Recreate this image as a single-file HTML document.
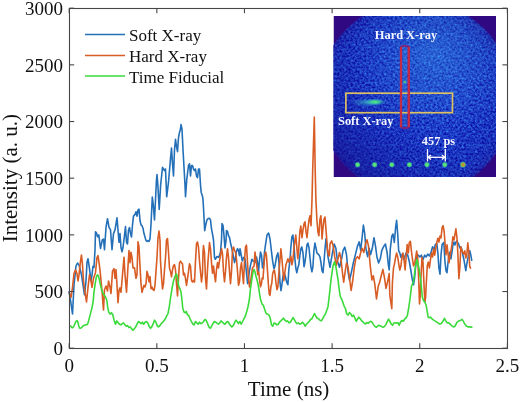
<!DOCTYPE html>
<html><head><meta charset="utf-8"><style>
html,body{margin:0;padding:0;background:#fff;}
svg{display:block;}
text{font-family:"Liberation Serif",serif;}
</style></head><body>
<svg width="520" height="402" viewBox="0 0 520 402">
<defs>
<filter id="nz" x="0" y="0" width="100%" height="100%" filterUnits="userSpaceOnUse" color-interpolation-filters="sRGB">
<feTurbulence type="fractalNoise" baseFrequency="0.45" numOctaves="2" seed="7" result="t"/>
<feColorMatrix in="t" type="matrix" values="0.362 0 0 0 -0.064  0.906 0 0 0 -0.210  0.543 0 0 0 0.536  0 0 0 0 1" result="c"/>
<feComposite in="c" in2="SourceGraphic" operator="in"/>
</filter>
<radialGradient id="edge" cx="415.5" cy="98" r="97.5" gradientUnits="userSpaceOnUse">
<stop offset="0" stop-color="#121888" stop-opacity="0"/>
<stop offset="0.5" stop-color="#121888" stop-opacity="0.03"/>
<stop offset="0.85" stop-color="#121888" stop-opacity="0.18"/>
<stop offset="0.96" stop-color="#1a0c80" stop-opacity="0.3"/>
<stop offset="1" stop-color="#22067c" stop-opacity="0.45"/>
</radialGradient>
<linearGradient id="dk" x1="470" y1="40" x2="345" y2="170" gradientUnits="userSpaceOnUse">
<stop offset="0" stop-color="#101a9a" stop-opacity="0"/>
<stop offset="0.5" stop-color="#101a9a" stop-opacity="0.15"/>
<stop offset="1" stop-color="#140f90" stop-opacity="0.6"/>
</linearGradient>
<radialGradient id="hi" cx="435" cy="55" r="85" gradientUnits="userSpaceOnUse">
<stop offset="0" stop-color="#40a8ea" stop-opacity="0.42"/>
<stop offset="0.5" stop-color="#40a8ea" stop-opacity="0.22"/>
<stop offset="1" stop-color="#40a8ea" stop-opacity="0"/>
</radialGradient>
<radialGradient id="glow" cx="0.5" cy="0.5" r="0.5">
<stop offset="0" stop-color="#5ff07a" stop-opacity="1"/>
<stop offset="0.45" stop-color="#3ad0a0" stop-opacity="0.8"/>
<stop offset="1" stop-color="#3aa0e0" stop-opacity="0"/>
</radialGradient>
<radialGradient id="glow2" cx="0.5" cy="0.5" r="0.5">
<stop offset="0" stop-color="#40c8c0" stop-opacity="0.7"/>
<stop offset="1" stop-color="#3090e0" stop-opacity="0"/>
</radialGradient>
<radialGradient id="dotg" cx="0.5" cy="0.5" r="0.5">
<stop offset="0" stop-color="#7af070"/>
<stop offset="0.6" stop-color="#40d080"/>
<stop offset="1" stop-color="#3a90d0" stop-opacity="0.3"/>
</radialGradient>
<radialGradient id="doty" cx="0.5" cy="0.5" r="0.5">
<stop offset="0" stop-color="#d07a30"/>
<stop offset="0.35" stop-color="#c09a38"/>
<stop offset="0.65" stop-color="#70c050"/>
<stop offset="1" stop-color="#3a90d0" stop-opacity="0.3"/>
</radialGradient>
<clipPath id="ic"><rect x="333.5" y="16" width="162.5" height="161"/></clipPath>
</defs>
<g fill="none" stroke-width="1.6" stroke-linejoin="round">
<polyline points="69.0,291.0 70.5,300.0 72.5,314.0 74.0,285.0 76.0,266.0 77.5,263.0 79.0,265.0 80.0,268.7 81.5,274.9 83.0,284.8 84.5,294.8 86.0,281.0 87.0,262.4 88.0,258.7 89.5,268.7 91.0,281.0 92.0,274.9 93.0,266.2 94.0,267.4 95.0,250.0 95.5,231.7 96.5,233.0 97.6,236.7 98.8,234.9 100.5,248.5 102.3,239.8 103.5,239.2 104.5,249.8 106.0,227.4 107.5,218.7 109.0,227.4 110.5,229.9 112.0,249.8 113.5,233.6 115.0,229.9 116.0,224.0 117.0,217.9 118.0,230.0 119.0,242.3 120.0,233.6 121.0,247.5 122.0,251.8 123.0,247.5 124.5,235.3 125.5,226.6 126.5,242.3 127.5,244.0 128.5,230.0 129.5,227.5 130.5,233.6 131.5,237.0 132.5,224.8 133.5,216.1 135.0,214.4 136.0,211.8 137.0,216.1 138.0,210.0 139.0,209.2 140.0,220.5 141.0,224.8 142.0,225.7 143.0,228.3 144.0,233.6 145.0,237.0 146.0,240.5 147.0,241.4 148.0,240.5 149.0,241.4 150.0,238.8 151.0,224.8 152.3,197.0 153.3,205.0 154.5,220.0 155.5,200.0 156.4,181.0 157.0,174.5 157.8,184.0 159.2,209.5 160.6,185.5 162.5,167.3 163.5,169.0 164.5,170.7 165.5,169.0 166.7,196.8 168.5,182.0 170.5,158.6 171.5,148.1 172.5,163.8 173.5,176.0 174.5,149.8 175.5,139.4 176.5,146.4 177.5,151.6 178.5,137.6 179.5,132.4 180.5,129.0 181.0,124.6 182.0,129.0 183.0,149.8 184.0,167.3 185.0,185.0 185.5,196.8 186.7,180.2 188.5,165.5 189.5,163.8 190.5,176.0 191.5,165.5 192.5,165.5 193.5,169.0 194.5,170.7 195.5,169.0 196.5,176.0 197.5,177.7 198.5,169.0 199.5,169.0 200.5,184.7 201.2,192.4 202.4,195.9 203.0,199.4 203.6,209.8 204.7,230.7 205.5,226.0 206.8,220.3 208.0,218.6 209.5,218.3 210.5,220.0 211.5,228.8 212.5,234.0 213.5,240.0 214.5,257.4 215.3,259.2 217.0,256.5 218.8,257.4 220.5,252.2 221.5,240.0 222.0,223.6 223.0,225.3 224.0,235.7 225.0,247.9 226.0,241.0 226.5,230.5 227.5,231.4 228.5,235.7 229.5,237.5 230.5,242.7 231.9,248.7 233.3,255.7 234.5,262.6 235.3,260.0 236.2,252.2 237.5,248.7 238.5,250.5 239.4,255.7 240.0,248.7 241.0,254.0 242.3,260.9 243.7,257.4 245.0,259.0 245.8,266.1 246.7,274.8 247.6,283.6 248.4,280.0 249.3,271.4 250.7,264.4 251.9,259.2 253.0,261.0 254.0,261.0 255.5,262.3 256.5,257.0 257.5,262.3 258.5,272.0 259.5,260.5 260.5,252.0 261.5,255.3 262.5,268.0 263.5,266.0 264.5,252.0 265.5,244.9 267.0,235.0 268.6,233.0 270.0,239.0 271.4,250.9 272.6,260.8 274.0,268.8 275.0,266.0 276.5,256.8 277.9,252.9 279.0,262.8 280.0,282.7 281.0,290.7 282.0,284.0 282.9,276.7 283.9,273.0 284.9,274.8 286.9,282.7 287.9,284.7 288.9,268.8 289.9,260.8 290.9,246.9 291.9,236.9 292.9,235.0 293.9,244.0 294.9,258.8 295.8,268.0 296.8,272.8 297.8,268.0 298.8,264.8 299.8,256.0 300.8,249.0 301.8,246.9 303.0,253.0 304.0,266.8 305.0,262.0 305.9,254.9 306.9,245.0 307.9,243.0 309.0,248.0 309.9,256.9 310.9,266.8 311.9,271.8 312.9,266.8 313.9,250.9 314.9,243.0 316.0,248.0 316.9,252.9 318.9,254.9 320.0,257.0 321.0,262.8 322.0,270.7 323.0,272.7 324.0,262.0 325.0,248.8 326.0,238.9 327.0,246.0 328.0,256.8 329.0,262.0 330.0,267.3 332.1,254.6 334.2,244.0 335.9,248.3 337.4,261.0 339.5,267.3 341.6,258.8 343.1,250.4 344.8,247.2 346.5,254.6 348.0,271.5 349.5,280.0 351.1,273.6 353.3,263.0 355.4,254.6 357.5,246.1 359.2,241.9 360.7,250.4 362.1,237.7 363.4,225.0 364.7,233.5 365.9,248.3 367.6,256.7 369.1,248.3 370.6,254.6 372.3,248.3 374.0,237.7 375.5,246.1 376.9,256.7 378.6,263.0 380.3,258.8 381.8,250.4 383.9,246.1 385.4,244.0 387.1,252.5 388.2,263.6 389.2,270.0 390.3,248.8 391.8,236.1 393.0,234.0 394.3,242.5 395.6,227.7 396.6,220.3 397.7,234.0 398.7,251.0 399.8,253.0 400.9,257.3 402.3,254.0 403.6,259.4 405.0,256.0 406.1,253.0 407.7,255.0 409.3,261.5 410.8,270.0 412.1,278.4 413.5,284.8 414.6,278.0 415.7,265.7 416.7,257.3 418.4,255.2 420.0,257.0 421.4,255.2 423.0,259.4 424.7,255.2 426.2,257.0 427.7,254.1 429.4,256.0 431.1,252.0 432.6,246.7 434.0,250.0 435.3,244.6 436.8,243.5 437.9,253.0 438.9,267.9 440.0,274.2 441.0,255.2 442.1,244.6 443.8,242.5 445.0,262.0 446.0,270.7 447.0,272.7 448.0,263.0 449.0,254.8 450.0,252.0 450.9,258.8 452.0,252.0 452.9,244.9 454.0,242.0 454.9,244.9 456.0,242.0 456.9,240.9 458.0,243.0 458.9,244.9 460.0,248.0 460.8,246.8 462.0,250.0 462.8,254.8 464.0,260.0 464.8,264.8 465.8,270.7 466.8,264.0 467.8,258.8 468.8,254.0 469.8,250.8 470.8,255.0 471.8,260.8" stroke="#2470b8"/>
<polyline points="69.0,292.3 71.0,297.3 72.5,287.3 74.0,273.6 75.5,269.9 77.0,273.6 78.0,281.0 79.0,274.9 80.5,261.2 81.5,255.0 82.5,265.0 83.5,281.0 85.0,292.3 86.5,302.0 88.0,287.3 89.5,274.9 91.0,281.0 92.0,287.3 93.5,278.6 95.5,272.4 97.0,257.5 98.0,255.6 99.5,266.2 100.5,274.9 102.0,291.0 103.5,310.0 104.5,289.8 106.0,286.0 107.5,291.0 108.5,281.0 110.0,287.3 111.0,293.5 112.5,271.1 114.0,268.7 115.0,278.3 116.0,269.6 117.0,285.3 118.0,302.7 119.0,290.5 120.0,287.9 121.0,292.3 122.5,274.8 124.0,257.4 125.0,274.8 126.5,292.3 128.0,266.1 129.0,250.5 130.0,262.6 131.0,252.2 132.0,257.4 133.0,267.9 134.5,267.9 136.0,278.3 137.0,274.8 138.0,241.7 139.0,247.0 140.0,266.1 141.0,283.6 142.0,292.3 143.0,288.8 144.0,285.3 145.0,287.0 146.0,283.6 147.0,271.4 148.0,274.8 149.0,281.8 150.0,276.6 151.0,288.8 152.0,287.0 153.0,289.7 154.0,290.5 155.0,285.3 156.0,271.4 157.0,257.4 158.0,238.0 159.0,231.0 160.0,240.0 160.5,261.1 161.5,276.8 162.5,289.0 163.5,283.8 164.5,269.8 165.5,257.6 166.5,240.2 167.5,238.5 168.5,252.4 169.5,268.1 170.5,271.6 171.5,276.8 172.5,269.8 173.5,265.5 174.5,264.6 175.5,269.8 176.5,283.8 177.5,296.0 178.5,278.6 179.5,262.9 180.5,261.1 181.5,262.9 182.5,263.7 183.5,275.0 184.5,273.3 185.5,278.6 186.5,285.5 187.5,278.6 188.5,271.6 189.5,263.7 190.5,266.4 191.5,280.3 192.5,282.0 193.5,280.3 194.5,282.0 195.5,261.1 196.5,243.7 197.5,242.0 198.5,247.2 199.5,261.1 200.5,271.6 201.5,282.0 202.5,273.3 203.0,252.4 203.5,245.5 204.5,252.4 205.5,278.6 206.5,289.0 207.5,269.8 208.0,261.1 209.5,242.6 210.5,248.7 211.5,262.6 212.5,273.1 213.5,266.1 214.5,274.8 215.5,281.8 216.5,269.6 217.5,262.6 218.5,267.9 219.5,260.9 220.5,255.7 221.5,248.7 222.5,253.9 223.5,271.4 224.5,281.8 225.5,271.4 226.5,257.4 227.5,248.7 228.5,257.4 229.5,271.4 230.5,283.6 231.5,271.4 232.5,250.5 233.5,247.0 234.5,250.5 235.5,252.2 236.5,259.2 237.5,271.4 238.5,285.3 239.5,281.8 240.5,267.9 241.5,262.6 242.5,273.1 243.5,283.6 244.5,260.9 245.5,247.0 246.5,245.2 247.5,262.6 248.5,278.3 249.5,287.0 250.5,281.8 251.5,274.8 252.5,267.9 254.0,266.1 255.0,252.0 256.0,260.0 257.0,267.6 257.8,274.6 258.7,272.0 259.6,279.8 260.5,286.8 261.4,284.0 262.2,278.1 263.0,279.0 263.9,265.9 264.8,255.5 265.7,252.0 266.5,256.0 267.4,269.4 268.3,283.3 269.2,293.8 270.0,295.5 270.9,286.8 271.8,283.3 272.6,274.0 273.5,271.0 274.4,270.0 275.3,276.0 276.1,284.0 277.0,289.7 277.9,287.0 278.7,275.0 279.9,260.8 280.9,248.9 281.9,258.0 282.9,270.8 283.9,280.7 284.9,272.0 285.9,264.8 286.9,262.0 287.9,258.8 288.9,262.0 289.9,260.8 290.9,256.0 291.9,264.8 292.9,260.0 293.9,248.9 294.9,240.9 295.8,235.0 296.8,247.0 297.8,258.8 298.8,248.0 299.8,232.0 300.8,226.0 302.0,237.7 303.0,230.0 304.0,223.8 305.0,221.8 306.0,231.7 307.0,237.7 308.0,228.0 309.0,219.8 310.0,215.8 311.0,225.8 312.0,199.9 312.7,170.0 314.3,117.0 315.2,170.0 315.9,199.9 316.9,219.8 317.9,231.7 318.9,235.7 319.9,219.8 320.9,215.8 321.5,225.0 322.0,238.9 323.0,228.0 324.0,219.0 325.0,217.0 326.4,234.9 327.4,248.8 328.4,254.8 329.3,256.0 330.0,244.0 331.7,240.9 333.2,246.1 334.7,256.7 336.3,265.2 338.0,258.8 339.5,252.5 341.0,258.8 342.3,271.5 343.7,282.1 345.2,271.5 346.5,263.0 348.0,267.3 349.5,277.9 351.1,290.5 352.8,280.0 354.3,267.3 355.8,258.8 357.5,256.7 359.2,258.8 360.7,252.5 362.1,248.3 363.8,252.5 365.5,244.0 367.0,239.8 368.5,246.1 370.2,265.2 371.9,280.0 373.3,275.7 374.8,284.2 376.5,299.0 378.2,286.3 379.7,282.1 381.2,275.7 382.9,269.4 384.5,277.9 386.0,288.4 387.5,282.1 389.2,273.6 389.8,294.8 390.8,302.0 391.8,308.7 392.4,282.7 393.5,267.9 394.5,263.6 395.6,257.3 396.6,253.0 397.7,257.0 398.7,263.6 399.8,270.0 400.9,266.0 401.9,257.3 403.0,253.0 404.0,259.4 405.1,270.0 406.1,257.3 407.2,244.6 408.3,253.0 409.3,242.5 410.4,241.4 411.4,251.0 412.5,259.4 413.5,266.0 414.6,263.6 415.7,257.3 416.7,251.0 417.7,258.0 418.8,282.7 419.5,304.0 420.2,296.0 420.9,278.4 422.0,257.3 423.0,262.0 424.1,286.9 424.9,302.0 425.6,297.5 426.3,283.0 427.3,265.7 428.3,262.0 429.4,267.9 430.5,259.4 431.5,253.0 432.6,257.0 433.6,248.8 434.7,255.2 435.7,248.8 436.8,242.5 437.9,238.3 438.9,242.0 440.0,236.1 441.0,238.0 442.1,227.7 443.1,225.6 444.2,232.0 445.0,242.9 446.0,254.8 447.0,244.9 448.0,253.0 449.0,262.8 450.0,256.0 450.9,250.8 451.9,244.9 452.9,236.9 454.0,240.0 454.9,234.9 455.9,228.9 457.0,238.0 457.9,254.8 458.9,278.7 459.9,266.7 460.8,246.8 461.8,250.0 462.8,252.8 463.8,254.0 464.8,250.8 465.8,258.0 466.8,254.8 467.8,242.9 468.8,252.0 469.8,266.7 470.8,268.7" stroke="#d85c24"/>
<polyline points="69.5,326.1 70.8,326.1 72.1,327.9 73.4,327.0 74.7,324.4 76.0,321.3 76.9,320.5 77.8,321.8 78.6,325.3 79.5,327.9 80.4,328.3 81.7,327.4 83.0,326.1 84.3,325.3 85.6,324.8 86.9,324.8 87.8,323.5 88.6,320.9 89.5,317.4 90.4,313.9 91.3,310.5 92.1,307.0 93.0,302.6 94.0,291.9 95.5,281.9 96.4,276.9 97.4,274.9 98.4,275.9 99.4,279.9 100.4,284.9 101.4,288.9 102.4,291.9 103.9,294.8 105.4,296.8 106.9,300.5 107.6,306.7 108.7,312.1 110.1,314.1 111.4,312.8 112.8,314.8 114.1,320.2 115.5,324.2 116.8,320.9 118.2,322.9 119.5,324.2 120.9,324.9 122.2,323.6 123.6,322.9 124.9,324.9 126.2,326.2 127.6,325.6 128.9,327.6 130.3,326.9 131.6,328.9 133.0,330.3 134.3,328.9 135.7,326.9 137.0,324.2 138.4,321.5 139.7,322.2 141.0,323.6 142.4,322.2 143.7,324.2 145.1,322.2 146.4,321.5 147.8,322.9 149.1,326.2 150.5,328.3 151.8,326.9 153.2,323.6 154.5,320.2 155.9,322.2 157.2,325.6 158.5,326.9 159.9,325.6 161.2,323.6 162.6,322.2 163.9,320.9 165.3,318.8 166.6,316.2 168.0,313.5 169.3,306.7 170.5,298.0 172.0,288.6 173.5,281.0 175.0,276.3 176.5,274.0 177.5,278.0 178.5,285.2 180.0,289.0 181.0,292.0 182.0,300.0 182.7,308.0 184.0,312.0 185.4,312.8 186.3,311.5 187.4,314.8 188.7,315.5 190.1,318.8 191.4,321.5 192.8,324.2 194.1,324.9 195.5,321.5 196.8,322.9 198.2,324.2 199.5,322.2 200.9,323.6 202.2,323.0 203.6,321.5 204.9,319.5 206.2,320.2 207.6,323.6 208.9,326.9 210.3,328.3 211.6,326.2 213.0,323.6 214.3,321.5 215.7,322.2 217.0,323.2 218.4,324.2 219.7,323.0 221.0,320.9 222.3,322.0 223.7,323.6 225.0,324.2 226.4,322.2 227.8,321.5 229.1,323.5 230.5,325.6 231.8,326.9 233.2,325.6 234.5,322.9 235.9,320.2 237.2,321.5 238.5,323.6 239.9,321.5 241.2,324.2 242.6,321.5 243.9,318.8 245.3,316.2 246.6,312.1 248.0,306.7 249.3,300.0 250.5,288.6 252.0,278.0 253.0,272.0 254.0,269.5 255.0,272.0 256.0,276.3 257.3,281.0 258.5,286.3 259.7,295.0 260.7,300.0 262.0,304.0 263.4,305.4 264.7,309.4 266.1,313.5 267.4,314.1 268.8,314.8 270.1,317.5 271.5,324.9 272.8,326.2 274.2,322.9 275.5,323.6 276.8,324.9 278.2,324.2 279.5,322.2 280.9,320.9 282.2,319.5 283.6,318.2 284.9,320.2 286.3,321.5 287.6,320.9 289.0,322.9 290.3,322.2 291.6,320.2 293.0,317.5 294.3,319.5 295.7,322.2 297.0,323.6 298.4,322.9 299.7,324.2 301.1,323.6 302.4,322.2 303.8,323.6 305.1,326.2 306.5,324.2 307.8,322.9 309.1,321.5 310.5,319.5 311.8,318.8 313.2,316.2 314.5,313.5 315.9,316.2 317.2,318.2 318.6,318.8 319.9,320.2 321.3,320.9 322.6,318.8 324.0,316.2 325.3,314.1 326.6,310.8 328.0,306.7 329.5,294.0 331.0,279.6 333.0,266.2 334.5,261.7 336.0,267.3 338.0,279.6 339.3,290.0 340.3,296.5 341.3,298.4 342.7,301.7 344.0,305.8 345.4,308.5 346.7,313.8 348.1,315.2 349.4,312.5 350.8,313.8 352.1,316.5 353.5,315.2 354.8,317.9 356.2,321.2 357.5,319.2 358.8,317.2 360.2,318.6 361.5,320.6 362.9,321.9 364.2,323.3 365.6,323.9 366.9,322.6 368.3,323.3 369.6,321.9 371.0,321.2 372.3,322.6 373.6,324.6 375.0,326.6 376.3,327.3 377.7,326.0 379.0,325.3 380.4,326.0 381.7,326.6 383.1,327.3 384.4,326.6 385.8,324.6 387.1,321.9 388.5,319.2 389.8,321.2 391.1,323.9 392.5,325.3 393.8,323.3 395.2,322.6 396.5,323.3 397.9,322.6 399.2,325.3 400.6,321.9 401.9,320.6 403.3,321.2 404.6,319.2 406.0,317.9 407.3,315.9 408.6,308.5 410.0,299.0 411.5,286.3 413.5,281.8 415.5,266.2 417.0,259.5 419.0,268.4 421.0,283.0 422.3,297.0 423.5,300.4 425.2,302.7 426.3,306.1 427.5,313.1 428.1,317.1 429.2,317.7 430.4,317.1 431.5,318.3 432.7,319.4 434.4,320.6 436.1,321.7 437.9,322.9 439.6,324.0 441.3,323.4 443.1,321.1 444.5,318.3 445.6,320.6 447.1,322.9 448.8,322.9 450.6,324.6 452.3,326.3 454.0,326.9 455.2,325.8 456.9,322.3 458.6,321.1 460.4,320.6 462.1,319.4 463.3,321.1 464.4,323.4 466.1,325.8 467.9,326.9 469.6,326.7 471.3,327.1 472.5,327.0" stroke="#3ada3a"/>
</g>
<!-- axes -->
<rect x="69.5" y="8.5" width="438" height="340" fill="none" stroke="#464646" stroke-width="1.1"/>
<g stroke="#464646" stroke-width="1.1"><line x1="69.20" y1="348.2" x2="69.20" y2="343.2"/><line x1="69.20" y1="8.2" x2="69.20" y2="13.2"/><line x1="156.84" y1="348.2" x2="156.84" y2="343.2"/><line x1="156.84" y1="8.2" x2="156.84" y2="13.2"/><line x1="244.48" y1="348.2" x2="244.48" y2="343.2"/><line x1="244.48" y1="8.2" x2="244.48" y2="13.2"/><line x1="332.12" y1="348.2" x2="332.12" y2="343.2"/><line x1="332.12" y1="8.2" x2="332.12" y2="13.2"/><line x1="419.76" y1="348.2" x2="419.76" y2="343.2"/><line x1="419.76" y1="8.2" x2="419.76" y2="13.2"/><line x1="507.40" y1="348.2" x2="507.40" y2="343.2"/><line x1="507.40" y1="8.2" x2="507.40" y2="13.2"/><line x1="69.2" y1="348.20" x2="74.2" y2="348.20"/><line x1="507.4" y1="348.20" x2="502.4" y2="348.20"/><line x1="69.2" y1="291.53" x2="74.2" y2="291.53"/><line x1="507.4" y1="291.53" x2="502.4" y2="291.53"/><line x1="69.2" y1="234.87" x2="74.2" y2="234.87"/><line x1="507.4" y1="234.87" x2="502.4" y2="234.87"/><line x1="69.2" y1="178.20" x2="74.2" y2="178.20"/><line x1="507.4" y1="178.20" x2="502.4" y2="178.20"/><line x1="69.2" y1="121.53" x2="74.2" y2="121.53"/><line x1="507.4" y1="121.53" x2="502.4" y2="121.53"/><line x1="69.2" y1="64.87" x2="74.2" y2="64.87"/><line x1="507.4" y1="64.87" x2="502.4" y2="64.87"/><line x1="69.2" y1="8.20" x2="74.2" y2="8.20"/><line x1="507.4" y1="8.20" x2="502.4" y2="8.20"/></g>
<g font-size="19" fill="#111"><text x="69.20" y="372.2" text-anchor="middle">0</text><text x="156.84" y="372.2" text-anchor="middle">0.5</text><text x="244.48" y="372.2" text-anchor="middle">1</text><text x="332.12" y="372.2" text-anchor="middle">1.5</text><text x="419.76" y="372.2" text-anchor="middle">2</text><text x="507.40" y="372.2" text-anchor="middle">2.5</text><text x="63" y="355.00" text-anchor="end">0</text><text x="63" y="298.33" text-anchor="end">500</text><text x="63" y="241.67" text-anchor="end">1000</text><text x="63" y="185.00" text-anchor="end">1500</text><text x="63" y="128.33" text-anchor="end">2000</text><text x="63" y="71.67" text-anchor="end">2500</text><text x="63" y="15.00" text-anchor="end">3000</text></g>
<text x="288.6" y="395.5" font-size="21" text-anchor="middle" fill="#111">Time (ns)</text>
<text transform="translate(16.7,178.2) rotate(-90)" font-size="21" text-anchor="middle" fill="#111">Intensity (a. u.)</text>
<!-- legend -->
<g stroke-width="1.5">
<line x1="85" y1="34.5" x2="125" y2="34.5" stroke="#2470b8"/>
<line x1="85" y1="55.6" x2="125" y2="55.6" stroke="#d85c24"/>
<line x1="85" y1="76" x2="125" y2="76" stroke="#3ada3a"/>
</g>
<g font-size="17" fill="#111">
<text x="129" y="41">Soft X-ray</text>
<text x="129" y="62">Hard X-ray</text>
<text x="129" y="82.5">Time Fiducial</text>
</g>
<!-- inset -->
<g clip-path="url(#ic)">
<rect x="333.5" y="16" width="162.5" height="161" fill="#300882"/>
<circle cx="415.5" cy="98" r="97.5" fill="#000" filter="url(#nz)"/>
<circle cx="415.5" cy="98" r="97.5" fill="url(#hi)"/>
<circle cx="415.5" cy="98" r="97.5" fill="url(#dk)"/>
<circle cx="415.5" cy="98" r="97.5" fill="url(#edge)"/>
<ellipse cx="366" cy="102.5" rx="16" ry="4.5" fill="url(#glow2)"/>
<ellipse cx="375" cy="102" rx="11" ry="3.6" fill="url(#glow)"/>
<rect x="402.2" y="47" width="5.4" height="80" fill="#4aa8e8" opacity="0.22"/>
<circle cx="404.8" cy="82" r="1.3" fill="#50e070" opacity="0.8"/>
<circle cx="357.6" cy="164.7" r="3" fill="url(#dotg)"/><circle cx="374.6" cy="164.7" r="3" fill="url(#dotg)"/><circle cx="391.8" cy="164.7" r="3" fill="url(#dotg)"/><circle cx="409.4" cy="164.7" r="3" fill="url(#dotg)"/><circle cx="426.9" cy="164.7" r="3" fill="url(#dotg)"/><circle cx="444.7" cy="164.7" r="3" fill="url(#dotg)"/><circle cx="463" cy="164.7" r="3.3" fill="url(#doty)"/>
</g>
<rect x="345.9" y="93.2" width="106.6" height="19.5" fill="none" stroke="#dcc062" stroke-width="1.7"/>
<rect x="401" y="46" width="7.8" height="82" rx="2" fill="none" stroke="#8a2070" stroke-width="2" opacity="0.85"/>
<line x1="401" y1="47" x2="401" y2="127" stroke="#c42a46" stroke-width="2.3"/>
<line x1="408.8" y1="47" x2="408.8" y2="127" stroke="#c42a46" stroke-width="2.3"/>
<g font-size="12.4" font-weight="bold" fill="#f4f6ff">
<text x="374.8" y="39.4">Hard X-ray</text>
<text x="338" y="124.5">Soft X-ray</text>
<text x="421.8" y="144.5">457 ps</text>
</g>
<g stroke="#fff" stroke-width="1.3" fill="none">
<line x1="427.5" y1="149" x2="427.5" y2="161.5"/>
<line x1="445.3" y1="149" x2="445.3" y2="161.5"/>
<line x1="428" y1="157.3" x2="445" y2="157.3"/>
<polyline points="431,155 428,157.3 431,159.6"/>
<polyline points="441.8,155 444.8,157.3 441.8,159.6"/>
</g>
</svg>
</body></html>
